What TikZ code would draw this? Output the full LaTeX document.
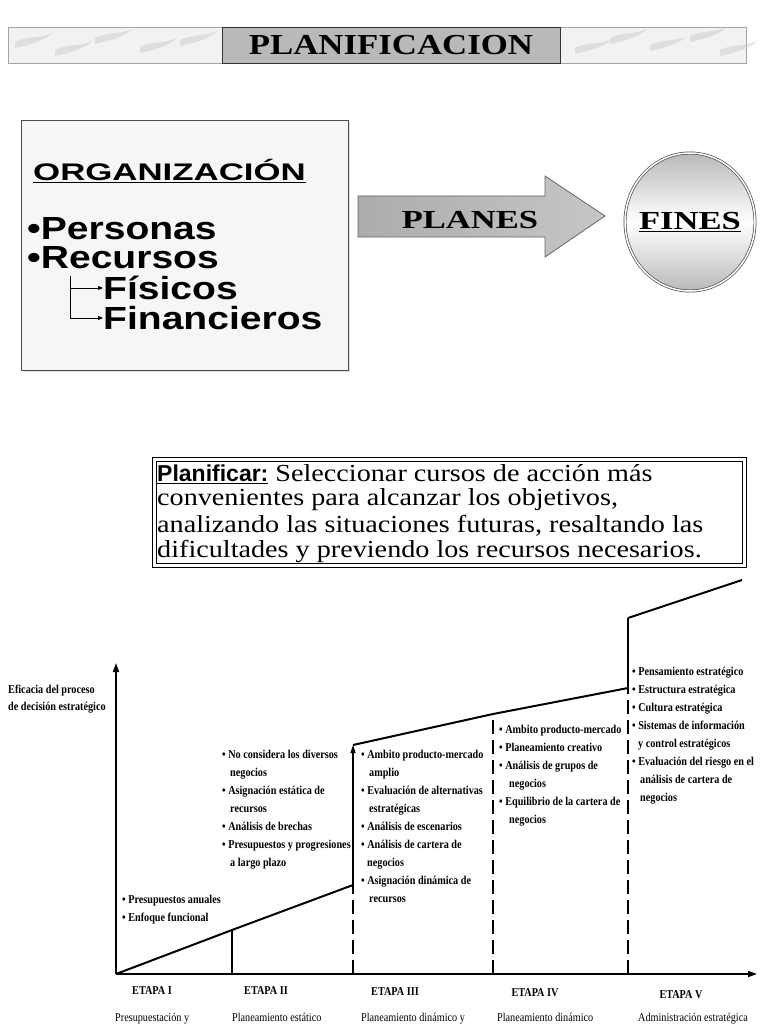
\documentclass[tikz,border=0pt]{standalone}
\usepackage{fontspec}
\setmainfont{Liberation Serif}
\newfontfamily\arialf{Liberation Sans}
\newfontfamily\arialw[FakeStretch=1.22]{Liberation Sans}
\newfontfamily\arialww[FakeStretch=1.45]{Liberation Sans}
\newfontfamily\serifw[FakeStretch=1.2]{Liberation Serif}
\newfontfamily\serifa[FakeStretch=1.33]{Liberation Serif}
\newfontfamily\serifd[FakeStretch=1.15]{Liberation Serif}
\newfontfamily\chartf[FakeStretch=0.85]{Liberation Serif}
\usetikzlibrary{arrows.meta,shapes.geometric,shadows}
\begin{document}
\begin{tikzpicture}[x=1pt,y=-1pt,
  chart/.style={font=\chartf\bfseries\fontsize{12}{18}\selectfont,align=left,anchor=north west,inner sep=0pt},
  etapa/.style={font=\chartf\bfseries\fontsize{12}{14}\selectfont,anchor=base},
  bottomlbl/.style={font=\chartf\fontsize{12}{14}\selectfont,anchor=base west,inner sep=0pt},
  orgitem/.style={anchor=west,inner sep=0pt,font=\arialw\bfseries\fontsize{32}{33}\selectfont},
  defline/.style={anchor=west,inner sep=0pt,font=\serifd\fontsize{24.5}{26}\selectfont},
  axis/.style={line width=1.6pt,-{Triangle[length=9pt,width=6pt]}},
  curve/.style={line width=2pt},
  dsh/.style={line width=1.4pt,dash pattern=on 14pt off 6pt}]
\useasboundingbox (0,0) rectangle (768,1024);
\fill[white] (0,0) rectangle (768,1024);
% banner
\fill[gray!10,draw=gray!70] (8,27) rectangle (746,63);
\foreach \x/\y in {15/42,55/50,95/38,140/47,180/40,575/48,610/38,650/45,690/36,720/50}
  \fill[gray!45,opacity=0.45] (\x,\y) .. controls (\x+12,\y-6) and (\x+22,\y-3) .. (\x+38,\y-9) .. controls (\x+26,\y) and (\x+14,\y+3) .. (\x,\y+6) -- cycle;
\node[draw=gray!40!black,line width=0.8pt,fill=gray!55,minimum width=338pt,minimum height=36pt,inner sep=0pt,font=\serifw\bfseries\fontsize{29}{30}\selectfont] (title) at (391,45) {PLANIFICACION};
% organization box
\node[draw=black!70,line width=0.8pt,fill=gray!7,minimum width=327pt,minimum height=250pt,inner sep=0pt,drop shadow={shadow xshift=2pt,shadow yshift=-2pt,fill=gray!50}] (org) at (184.5,245) {};
\node[anchor=west,inner sep=0pt,font=\arialww\bfseries\fontsize{24}{26}\selectfont] (orgt) at (33,171) {\underline{ORGANIZACIÓN}};
\node[orgitem] (per) at (27,229) {•Personas};
\node[orgitem] (rec) at (27,258) {•Recursos};
\node[orgitem] (fis) at (103,288) {Físicos};
\node[orgitem] (fin) at (103,318) {Financieros};
\coordinate (br) at (70,276);
\draw[line width=0.7pt,-{Triangle[length=5pt,width=4pt]}] (br) |- (fis.west);
\draw[line width=0.7pt,-{Triangle[length=5pt,width=4pt]}] (br) |- (fin.west);
% arrow
\draw[draw=black!60,line width=0.8pt,left color=gray!65,right color=gray!45] (358,196) -- (545,196) -- (545,176) -- (605,216) -- (545,257) -- (545,237) -- (358,237) -- cycle;
\node[font=\serifa\bfseries\fontsize{26}{28}\selectfont] (planes) at (470,220) {PLANES};
\node[ellipse,draw=black!70,double=white,double distance=1.5pt,line width=0.7pt,minimum width=130pt,minimum height=138pt,top color=gray!55,bottom color=gray!55,middle color=white] (fines) at (690,222) {};
\node[font=\serifa\bfseries\fontsize{26}{28}\selectfont] at (fines) {\underline{FINES}};
% definition
\draw[line width=0.8pt] (152,457) rectangle (746,567);
\draw[line width=0.6pt] (156,461) rectangle (742,563);
\node[defline] (d1) at (157,474) {{\arialf\bfseries\fontsize{23}{24}\selectfont\underline{Planificar:}} Seleccionar cursos de acción más};
\node[defline] (d2) at (157,500) {convenientes para alcanzar los objetivos,};
\node[defline] (d3) at (157,526) {analizando las situaciones futuras, resaltando las};
\node[defline] (d4) at (157,552) {dificultades y previendo los recursos necesarios.};
% chart
\coordinate (o) at (116,974);
\coordinate (ytop) at (116,663);
\coordinate (xend) at (757,974);
\draw[axis] (o) -- (ytop);
\draw[axis] (o) -- (xend);
\coordinate (p1) at (232,930);
\coordinate (p2) at (353,885);
\coordinate (p3) at (353,745);
\coordinate (p4) at (493,714);
\coordinate (p5) at (628,688);
\coordinate (p6) at (628,618);
\coordinate (p7) at (742,580);
\draw[curve] (o) -- (p1) -- (p2);
\draw[line width=1.4pt] (p1) -- (232,974);
\draw[dsh] (353,974) -- (p2);
\draw[line width=1.4pt,-{Triangle[length=8pt,width=5pt]}] (p2) -- (p3);
\draw[curve] (p3) -- (p4) -- (p5);
\draw[dsh] (493,974) -- (p4);
\draw[dsh] (628,974) -- (p5);
\draw[line width=1.4pt] (p5) -- (p6);
\draw[curve] (p6) -- (p7);
\node[anchor=west,inner sep=0pt,font=\chartf\bfseries\fontsize{12}{17}\selectfont,align=left] (ylab) at (8,699) {Eficacia del proceso\\de decisión estratégico};
\node[chart] (s1) at (122,895) {• Presupuestos anuales\\• Enfoque funcional};
\node[chart] (s2) at (222,750) {• No considera los diversos\\\hspace*{8pt}negocios\\• Asignación estática de\\\hspace*{8pt}recursos\\• Análisis de brechas\\• Presupuestos y progresiones\\\hspace*{8pt}a largo plazo};
\node[chart] (s3) at (361,750) {• Ambito producto-mercado\\\hspace*{8pt}amplio\\• Evaluación de alternativas\\\hspace*{8pt}estratégicas\\• Análisis de escenarios\\• Análisis de cartera de\\\hspace*{6pt}negocios\\• Asignación dinámica de\\\hspace*{8pt}recursos};
\node[chart] (s4) at (499,725) {• Ambito producto-mercado\\• Planeamiento creativo\\• Análisis de grupos de\\\hspace*{10pt}negocios\\• Equilibrio de la cartera de\\\hspace*{10pt}negocios};
\node[chart] (s5) at (632,667) {• Pensamiento estratégico\\• Estructura estratégica\\• Cultura estratégica\\• Sistemas de información\\\hspace*{6pt}y control estratégicos\\• Evaluación del riesgo en el\\\hspace*{8pt}análisis de cartera de\\\hspace*{8pt}negocios};
\node[etapa] (e1) at (152,994) {ETAPA I};
\node[etapa] (e2) at (266,994) {ETAPA II};
\node[etapa] (e3) at (395,995) {ETAPA III};
\node[etapa] (e4) at (535,996) {ETAPA IV};
\node[etapa] (e5) at (681,998) {ETAPA V};
\node[bottomlbl] (b1) at (115,1021) {Presupuestación y};
\node[bottomlbl] (b2) at (232,1021) {Planeamiento estático};
\node[bottomlbl] (b3) at (361,1021) {Planeamiento dinámico y};
\node[bottomlbl] (b4) at (497,1021) {Planeamiento dinámico};
\node[bottomlbl] (b5) at (638,1021) {Administración estratégica};
\end{tikzpicture}
\end{document}
